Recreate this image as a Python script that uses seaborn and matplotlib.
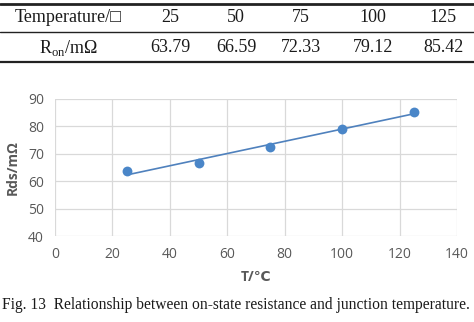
import matplotlib
matplotlib.use("Agg")
import matplotlib.pyplot as plt
import seaborn as sns
import pandas as pd
from matplotlib.lines import Line2D

# ---- data ----
temperatures = [25, 50, 75, 100, 125]
resistance = [63.79, 66.59, 72.33, 79.12, 85.42]
table_header = "Temperature/\u25a1"
table_row_label = "R$_{\\rm on}$/m\u03a9"
value_labels = ["63.79", "66.59", "72.33", "79.12", "85.42"]
x_ticks = [0, 20, 40, 60, 80, 100, 120, 140]
y_ticks = [40, 50, 60, 70, 80, 90]
x_label = "T/\u2103"
y_label = "Rds/m\u03a9"
caption = "Fig. 13  Relationship between on-state resistance and junction temperature."

df = pd.DataFrame({"T": temperatures, "R": resistance})

sns.set_theme(style="white")
plt.rcParams["mathtext.fontset"] = "custom"
plt.rcParams["mathtext.rm"] = "Liberation Serif"

W, H = 474, 322
fig = plt.figure(figsize=(W / 100, H / 100), dpi=100)
fig.patch.set_facecolor("white")

def fx(px):
    return px / W

def fy(py):
    return 1 - py / H

serif = "Liberation Serif"
# ---- table ----
for y, lw in [(4, 2.0), (32, 1.0), (62, 1.6)]:
    fig.add_artist(Line2D([0, 1], [fy(y), fy(y)], transform=fig.transFigure,
                          color="#222222", lw=lw))
col_x = [170, 236, 301, 373, 443]
fig.text(fx(68), fy(18), table_header, ha="center", va="center",
         fontsize=13, family=[serif, "DejaVu Sans"], color="#1a1a1a")
fig.text(fx(68), fy(48), table_row_label, ha="center", va="center",
         fontsize=13, family=serif, color="#1a1a1a")
for cx, t, v in zip(col_x, temperatures, value_labels):
    fig.text(fx(cx), fy(18), str(t), ha="center", va="center",
             fontsize=13, family=serif, color="#1a1a1a")
    fig.text(fx(cx), fy(48), v, ha="center", va="center",
             fontsize=13, family=serif, color="#1a1a1a")

# ---- chart ----
left, right, top, bottom = 55, 457, 99, 236
ax = fig.add_axes([fx(left), fy(bottom), (right - left) / W, (bottom - top) / H])
blue = "#4A86C8"
sns.regplot(data=df, x="T", y="R", ax=ax, ci=None, truncate=True,
            scatter_kws=dict(s=50, color=blue, edgecolor=blue, linewidths=0, zorder=3, alpha=1),
            line_kws=dict(color="#4F81BD", lw=1.2, zorder=2))
ax.set_xlim(0, 140)
ax.set_ylim(40, 90)
ax.set_xticks(x_ticks)
ax.set_yticks(y_ticks)
ax.grid(True, color="#D9D9D9", lw=0.9)
ax.set_axisbelow(True)
for s in ax.spines.values():
    s.set_visible(False)
ax.tick_params(axis="both", length=0, labelsize=10, colors="#595959", pad=8)
for lab in ax.get_xticklabels() + ax.get_yticklabels():
    lab.set_family("Open Sans")
ax.set_xlabel(x_label, fontsize=10, fontweight="bold", color="#595959",
              family=["Open Sans", "DejaVu Sans"], labelpad=6)
ax.set_ylabel(y_label, fontsize=10, fontweight="bold", color="#595959",
              family="Open Sans", labelpad=6)

fig.text(fx(2), fy(305), caption, ha="left", va="center", fontsize=11.2,
         family=serif, color="#1a1a1a")

fig.savefig("out.png", dpi=100, facecolor="white")
